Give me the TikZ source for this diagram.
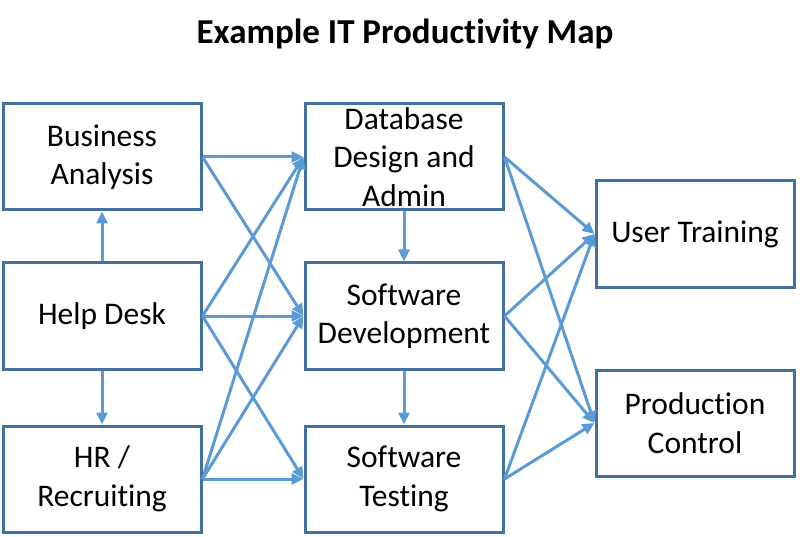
\documentclass[tikz,border=0pt]{standalone}
\usepackage{fontspec}
\setmainfont{Carlito}[Ligatures=NoCommon]
\usetikzlibrary{arrows.meta}
\definecolor{boxline}{HTML}{41719C}
\definecolor{arrowblue}{HTML}{5B9BD5}
\begin{document}
\begin{tikzpicture}[x=1pt,y=-1pt]

      \tikzset{enclosed/.style={draw=boxline, line width=3pt, rectangle, inner sep=0pt, minimum width=198pt, minimum height=106pt, align=center, font=\fontsize{31.5}{38.5}\selectfont},
               link/.style={draw=arrowblue, line width=3pt, -{Triangle[length=12pt,width=11pt]}}}
      \useasboundingbox (0,0) rectangle (800,537);
%% Title
      	\node[anchor=base, font=\bfseries\fontsize{35}{40}\selectfont] (title) at (405,44) {Example IT Productivity Map};
%% Boxes
      	\node[enclosed] (ba) at (102,157) {Business\\Analysis};
      	\node[enclosed] (hd) at (102,316) {Help Desk};
      	\node[enclosed] (hr) at (102,479) {HR /\\Recruiting};
      	\node[enclosed] (db) at (404,157) {Database\\Design and\\Admin};
      	\node[enclosed] (sd) at (404,316) {Software\\Development};
      	\node[enclosed] (st) at (404,479) {Software\\Testing};
      	\node[enclosed] (ut) at (695,234) {User Training};
      	\node[enclosed] (pc) at (695,423) {Production\\Control};
%Edges
		\path (ba.east) edge[link] (db.west);
		\path (ba.east) edge[link] (sd.west);
		\path (hd.north) edge[link] (ba.south);
		\path (hd.south) edge[link] (hr.north);
		\path (hd.east) edge[link] (db.west);
		\path (hd.east) edge[link] (sd.west);
		\path (hd.east) edge[link] (st.west);
		\path (hr.east) edge[link] (db.west);
		\path (hr.east) edge[link] (sd.west);
		\path (hr.east) edge[link] (st.west);
		\path (db.south) edge[link] (sd.north);
		\path (sd.south) edge[link] (st.north);
		\path (db.east) edge[link] (ut.west);
		\path (db.east) edge[link] (pc.west);
		\path (sd.east) edge[link] (ut.west);
		\path (sd.east) edge[link] (pc.west);
		\path (st.east) edge[link] (ut.west);
		\path (st.east) edge[link] (pc.west);

	\end{tikzpicture}
\end{document}
